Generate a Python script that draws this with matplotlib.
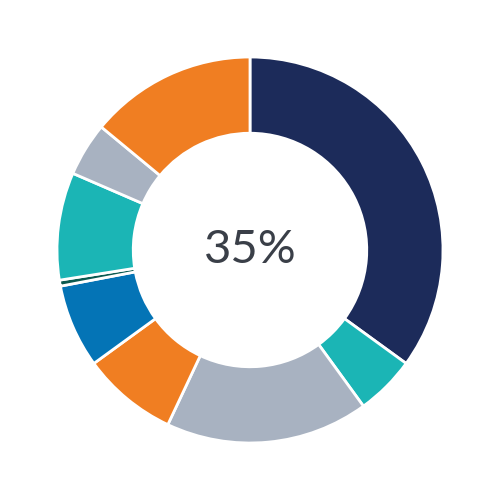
import matplotlib.pyplot as plt

# slice shares, clockwise from 12 o'clock
shares = [35, 5, 17, 8, 7, 0.5, 9, 4.5, 14]
colors = ['#1c2b5a', '#1bb5b5', '#a8b2c1', '#f07e22', '#0474b6',
          '#0b5a50', '#1bb5b5', '#a8b2c1', '#f07e22']
center_label = '35%'

fig = plt.figure(figsize=(5, 5), dpi=100)
ax = fig.add_axes([0, 0, 1, 1])

ax.pie(shares, colors=colors, startangle=90, counterclock=False, radius=1.0,
       wedgeprops=dict(width=0.395, edgecolor='white', linewidth=2))

ax.text(0, 0.0, center_label, ha='center', va='center', fontsize=34,
        color='#3a3f48', family='Lato', fontweight='normal')

lim = 250 / 193
ax.set_xlim(-lim, lim)
ax.set_ylim(-lim, lim)
ax.set_aspect('equal')
ax.axis('off')

plt.savefig('out.png', dpi=100)
plt.close()
